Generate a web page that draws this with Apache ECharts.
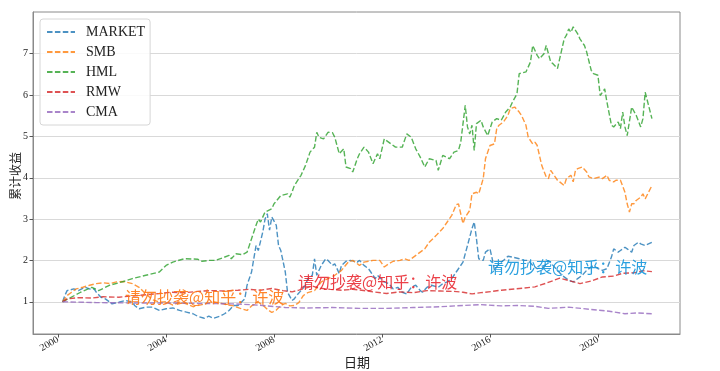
<!DOCTYPE html>
<html><head><meta charset="utf-8">
<script src="https://cdn.jsdelivr.net/npm/echarts@6/dist/echarts.min.js"></script>
<style>html,body{margin:0;padding:0;background:#fff}#c{width:720px;height:371px}</style>
</head><body><div id="c"></div>
<script>
const seriesNames = ['MARKET', 'SMB', 'HML', 'RMW', 'CMA'];
const xTickYears = [2000, 2004, 2008, 2012, 2016, 2020];
const yTickValues = [1, 2, 3, 4, 5, 6, 7];
const xAxisTitle = '日期';
const yAxisTitle = '累计收益';
const watermarkText = '请勿抄袭@知乎：许波';

const marketData = [
['2000-02-29',1.00],['2000-04',1.15],['2000-05',1.27],['2000-08',1.31],['2000-10',1.27],['2001-01',1.35],
['2001-03',1.31],['2001-05',1.31],['2001-06',1.23],['2001-08',1.11],['2001-10',1.07],['2002-01',0.95],
['2002-04',0.99],['2002-07',1.03],['2002-10',0.99],['2002-11',0.91],['2003-01',0.83],['2003-04',0.87],
['2003-07',0.87],['2003-10',0.79],['2004-01',0.83],['2004-04',0.85],['2004-07',0.79],['2004-10',0.75],
['2005-01',0.71],['2005-03',0.65],['2005-06',0.60],['2005-08',0.65],['2005-10',0.60],['2006-01',0.65],
['2006-03',0.71],['2006-05',0.79],['2006-07',0.91],['2006-09',0.91],['2006-12',1.07],['2007-01',1.40],
['2007-03',1.72],['2007-04',2.04],['2007-05',2.36],['2007-06',2.24],['2007-08',2.69],['2007-09',3.00],
['2007-10',3.13],['2007-11',2.73],['2007-12',3.05],['2008-02',2.85],['2008-03',2.36],['2008-04',2.24],
['2008-06',1.72],['2008-07',1.23],['2008-09',1.03],['2008-10',1.07],['2008-11',1.15],['2009-01',1.27],
['2009-03',1.40],['2009-04',1.56],['2009-06',1.64],['2009-07',2.04],['2009-08',1.64],['2009-10',1.88],
['2009-12',2.04],['2010-01',2.00],['2010-03',1.88],['2010-04',1.92],['2010-06',1.68],['2010-07',1.88],
['2010-09',1.98],['2010-11',2.00],['2011-02',1.96],['2011-03',2.00],['2011-05',1.88],['2011-07',1.80],
['2011-08',1.72],['2011-10',1.56],['2011-11',1.64],['2012-02',1.48],['2012-04',1.44],['2012-06',1.31],
['2012-08',1.35],['2012-10',1.23],['2012-12',1.19],['2013-02',1.35],['2013-04',1.40],['2013-06',1.27],
['2013-07',1.23],['2013-09',1.35],['2013-11',1.40],['2014-02',1.35],['2014-04',1.44],['2014-06',1.48],
['2014-08',1.56],['2014-10',1.72],['2015-01',1.96],['2015-03',2.36],['2015-05',2.77],['2015-06',2.93],
['2015-07',2.52],['2015-08',2.04],['2015-10',2.00],['2015-11',2.20],['2016-01',2.28],['2016-02',2.04],
['2016-03',1.76],['2016-05',1.92],['2016-07',2.00],['2016-09',2.10],['2016-11',2.08],['2017-02',2.04],
['2017-04',2.00],['2017-06',2.00],['2017-08',1.88],['2017-10',1.80],['2018-01',1.84],['2018-03',2.00],
['2018-05',1.88],['2018-07',1.76],['2018-09',1.64],['2018-12',1.52],['2019-02',1.48],['2019-04',1.56],
['2019-06',1.64],['2019-08',1.76],['2019-11',1.88],['2020-01',1.80],['2020-03',1.76],['2020-05',1.80],
['2020-07',2.08],['2020-08',2.28],['2020-10',2.20],['2020-11',2.24],['2021-01',2.32],['2021-02',2.28],
['2021-04',2.20],['2021-05',2.36],['2021-07',2.44],['2021-08',2.40],['2021-10',2.36],['2021-12-31',2.44]
];

const smbData = [
['2000-02-29',1.00],['2000-05',1.15],['2000-07',1.23],['2000-09',1.31],['2000-12',1.35],['2001-03',1.40],
['2001-06',1.44],['2001-09',1.46],['2001-12',1.44],['2002-03',1.48],['2002-06',1.49],['2002-10',1.44],
['2003-01',1.35],['2003-04',1.19],['2003-07',1.05],['2003-10',0.99],['2004-01',1.00],['2004-04',0.92],
['2004-07',0.99],['2004-10',0.95],['2005-01',0.88],['2005-04',0.92],['2005-07',0.96],['2005-10',1.00],
['2006-01',0.97],['2006-04',0.93],['2006-07',0.90],['2006-10',0.84],['2007-01',0.79],['2007-03',0.90],
['2007-06',0.99],['2007-08',0.92],['2007-10',0.82],['2007-12',0.74],['2008-02',0.80],['2008-04',0.91],
['2008-06',0.96],['2008-08',0.90],['2008-10',0.91],['2008-12',0.98],['2009-02',1.15],['2009-04',1.22],
['2009-07',1.27],['2009-10',1.48],['2010-01',1.56],['2010-04',1.64],['2010-07',1.76],['2010-10',1.96],
['2010-12',2.00],['2011-03',1.88],['2011-05',1.96],['2011-07',1.98],['2011-09',2.00],['2011-12',2.00],
['2012-02',1.84],['2012-04',1.92],['2012-06',1.98],['2012-09',2.00],['2012-11',2.04],['2013-01',2.00],
['2013-03',2.08],['2013-06',2.20],['2013-08',2.28],['2013-10',2.44],['2014-01',2.60],['2014-04',2.77],
['2014-06',2.93],['2014-08',3.09],['2014-10',3.35],['2014-11',3.37],['2015-01',2.89],['2015-02',3.05],
['2015-04',3.21],['2015-05',3.61],['2015-07',3.65],['2015-08',3.61],['2015-10',3.98],['2015-11',4.46],
['2016-01',4.78],['2016-03',4.82],['2016-04',5.19],['2016-05',5.27],['2016-07',5.35],['2016-09',5.51],
['2016-10',5.67],['2016-12',5.71],['2017-02',5.59],['2017-03',5.51],['2017-05',5.27],['2017-06',4.98],
['2017-08',4.82],['2017-09',4.86],['2017-10',4.78],['2017-12',4.30],['2018-02',4.02],['2018-03',3.98],
['2018-04',4.18],['2018-05',4.10],['2018-07',3.94],['2018-08',3.90],['2018-10',3.81],['2018-11',3.98],
['2019-01',4.06],['2019-02',3.90],['2019-03',4.18],['2019-04',4.22],['2019-06',4.26],['2019-08',4.14],
['2019-09',4.02],['2019-11',3.98],['2020-02',4.02],['2020-03',3.98],['2020-05',4.06],['2020-06',3.94],
['2020-08',3.90],['2020-09',3.94],['2020-11',3.94],['2021-01',3.65],['2021-02',3.37],['2021-03',3.17],
['2021-04',3.37],['2021-05',3.37],['2021-06',3.45],['2021-08',3.53],['2021-09',3.61],['2021-10',3.49],
['2021-12-31',3.81]
];

const hmlData = [
['2000-02-29',1.00],['2000-11',1.23],['2001-04',1.35],['2001-07',1.27],['2001-12',1.40],['2002-06',1.49],
['2002-10',1.56],['2003-04',1.64],['2003-10',1.72],['2004-01',1.88],['2004-04',1.96],['2004-09',2.04],
['2005-03',2.03],['2005-05',1.98],['2005-08',2.00],['2005-11',2.00],['2006-02',2.06],['2006-05',2.12],
['2006-06',2.04],['2006-08',2.16],['2006-11',2.14],['2007-01',2.20],['2007-02',2.36],['2007-05',2.85],
['2007-06',3.00],['2007-07',2.93],['2007-09',3.17],['2007-12',3.25],['2008-01',3.37],['2008-04',3.57],
['2008-07',3.61],['2008-08',3.53],['2008-09',3.65],['2008-10',3.81],['2009-01',4.06],['2009-03',4.30],
['2009-05',4.62],['2009-07',4.74],['2009-08',5.10],['2009-09',4.98],['2009-11',4.94],['2010-01',5.10],
['2010-03',5.09],['2010-04',4.98],['2010-06',4.58],['2010-08',4.70],['2010-09',4.26],['2010-11',4.22],
['2010-12',4.14],['2011-02',4.46],['2011-03',4.58],['2011-05',4.74],['2011-07',4.62],['2011-09',4.34],
['2011-11',4.58],['2011-12',4.46],['2012-02',4.94],['2012-05',4.82],['2012-07',4.74],['2012-10',4.74],
['2012-12',5.06],['2013-02',4.98],['2013-04',4.70],['2013-06',4.50],['2013-08',4.26],['2013-10',4.46],
['2014-01',4.42],['2014-02',4.18],['2014-04',4.54],['2014-07',4.46],['2014-09',4.62],['2014-11',4.66],
['2014-12',4.86],['2015-02',5.75],['2015-03',5.23],['2015-04',5.06],['2015-05',5.27],['2015-06',4.66],
['2015-07',5.31],['2015-09',5.39],['2015-10',5.23],['2015-12',5.02],['2016-02',5.35],['2016-04',5.43],
['2016-06',5.39],['2016-08',5.59],['2016-10',5.71],['2016-11',5.83],['2017-01',6.03],['2017-02',6.52],
['2017-05',6.56],['2017-07',6.80],['2017-08',7.20],['2017-10',6.96],['2017-11',6.88],['2018-01',7.00],
['2018-02',7.20],['2018-04',6.80],['2018-05',6.76],['2018-07',6.64],['2018-08',6.88],['2018-10',7.36],
['2018-11',7.45],['2018-12',7.60],['2019-01',7.52],['2019-02',7.65],['2019-04',7.48],['2019-05',7.36],
['2019-07',7.20],['2019-08',7.04],['2019-10',6.60],['2019-11',6.52],['2020-01',6.48],['2020-02',5.99],
['2020-04',6.15],['2020-05',5.83],['2020-07',5.27],['2020-08',5.23],['2020-10',5.35],['2020-11',5.19],
['2020-12',5.59],['2021-01',5.23],['2021-02',5.02],['2021-04',5.71],['2021-06',5.51],['2021-08',5.23],
['2021-09',5.43],['2021-10',6.07],['2021-12-31',5.43]
];

const rmwData = [
['2000-02-29',1.00],['2000-05',1.07],['2000-10',1.10],['2001-04',1.09],['2001-09',1.12],['2002-04',1.11],
['2002-10',1.14],['2003-04',1.17],['2003-10',1.20],['2004-03',1.23],['2004-09',1.22],['2005-03',1.25],
['2005-09',1.27],['2006-03',1.26],['2006-09',1.28],['2007-02',1.30],['2007-07',1.28],['2007-12',1.32],
['2008-05',1.27],['2008-09',1.24],['2008-12',1.28],['2009-03',1.33],['2009-06',1.38],['2009-09',1.33],
['2010-02',1.30],['2010-07',1.28],['2010-12',1.30],['2011-04',1.28],['2011-09',1.24],['2012-03',1.20],
['2012-09',1.24],['2013-03',1.22],['2013-09',1.27],['2014-03',1.26],['2014-09',1.25],['2015-01',1.23],
['2015-05',1.19],['2015-09',1.22],['2016-02',1.25],['2016-06',1.28],['2016-12',1.31],['2017-04',1.33],
['2017-09',1.36],['2018-02',1.45],['2018-08',1.57],['2019-01',1.50],['2019-05',1.44],['2019-10',1.50],
['2020-03',1.60],['2020-08',1.62],['2020-12',1.69],['2021-05',1.70],['2021-09',1.75],['2021-12-31',1.73]
];

const cmaData = [
['2000-02-29',1.00],['2001-06',0.98],['2003-01',0.97],['2004-06',0.97],['2005-03',0.96],['2006-06',0.95],
['2007-03',0.93],['2007-10',0.90],['2008-06',0.86],['2009-03',0.85],['2010-03',0.86],['2011-03',0.84],
['2012-03',0.84],['2013-03',0.86],['2014-03',0.88],['2015-01',0.91],['2015-09',0.93],['2016-06',0.90],
['2017-01',0.91],['2017-09',0.89],['2018-03',0.84],['2018-12',0.87],['2019-09',0.82],['2020-06',0.77],
['2021-01',0.71],['2021-06',0.73],['2021-12-31',0.71]
];

// date string -> fractional year (the x value the axis scale maps)
function toYear(s) {
  const p = s.split('-').map(Number);
  const y = p[0], m = p[1];
  if (p.length === 3) {
    const dim = new Date(Date.UTC(y, m, 0)).getUTCDate();
    return y + (m - 1 + p[2] / dim) / 12;
  }
  return y + (m - 1) / 12;
}

const allData = [marketData, smbData, hmlData, rmwData, cmaData];
const colors = ['#1f77b4', '#ff7f0e', '#2ca02c', '#d62728', '#9467bd'];
const latin = "'Liberation Serif', 'Times New Roman', serif";
const cjk = "'Noto Sans CJK SC', sans-serif";

const chart = echarts.init(document.getElementById('c'), null, { renderer: 'canvas' });
chart.setOption({
  animation: false,
  backgroundColor: '#ffffff',
  grid: {
    left: 33, right: 40, top: 12, bottom: 37, containLabel: false, outerBoundsMode: 'none',
    show: true, borderColor: '#8a8a8a', borderWidth: 1, backgroundColor: 'transparent'
  },
  legend: {
    orient: 'vertical', left: 40, top: 19,
    data: seriesNames,
    itemWidth: 28, itemHeight: 14, itemGap: 6,
    padding: [6, 5, 6, 6],
    backgroundColor: 'rgba(255,255,255,0.85)',
    borderColor: '#d6d6d6', borderWidth: 1, borderRadius: 3,
    itemStyle: { opacity: 0 },
    textStyle: { fontFamily: latin, fontSize: 14, color: '#222', padding: [0, 0, 0, 6] }
  },
  xAxis: {
    type: 'value',
    min: 1999.07, max: 2023.04,
    axisLine: { show: true, lineStyle: { color: '#8a8a8a' } },
    axisTick: { show: true, length: 3.5, customValues: xTickYears, lineStyle: { color: '#555' } },
    axisLabel: {
      customValues: xTickYears, rotate: 30, margin: 5,
      fontFamily: latin, fontSize: 10, color: '#222',
      formatter: function (v) { return String(Math.round(v)); }
    },
    splitLine: { show: false }
  },
  yAxis: {
    type: 'value', min: 0.22, max: 8.01,
    axisLine: { show: true, lineStyle: { color: '#8a8a8a' } },
    axisTick: { show: true, length: 3.5, customValues: yTickValues, lineStyle: { color: '#555' } },
    axisLabel: { customValues: yTickValues, margin: 5, fontFamily: latin, fontSize: 10, color: '#222' },
    splitLine: { show: true, lineStyle: { color: '#d9d9d9', width: 1 } }
  },
  series: seriesNames.map(function (name, i) {
    return {
      name: name, type: 'line',
      data: allData[i].map(function (d) { return [toYear(d[0]), d[1]]; }),
      symbol: 'none', showSymbol: false, smooth: false,
      lineStyle: { color: colors[i], width: 1.4, type: [5.5, 2.4], opacity: 0.8 },
      itemStyle: { color: colors[i], opacity: 0.8 },
      z: 2
    };
  }),
  graphic: [
    { type: 'text', x: 15, y: 176, rotation: Math.PI / 2, z: 100,
      style: { text: yAxisTitle, fill: '#222', font: '12px ' + cjk, align: 'center', verticalAlign: 'middle' } },
    { type: 'text', x: 357, y: 362, z: 100,
      style: { text: xAxisTitle, fill: '#222', font: '13px ' + cjk, align: 'center', verticalAlign: 'middle' } },
    { type: 'text', left: 125, top: 289, z: 100, style: { text: watermarkText, fill: 'rgba(255,120,20,0.9)', font: '16px ' + cjk } },
    { type: 'text', left: 298, top: 274, z: 100, style: { text: watermarkText, fill: 'rgba(232,30,40,0.85)', font: '16px ' + cjk } },
    { type: 'text', left: 488, top: 259, z: 100, style: { text: watermarkText, fill: 'rgba(20,150,220,0.9)', font: '16px ' + cjk } }
  ]
});
</script>
</body></html>
